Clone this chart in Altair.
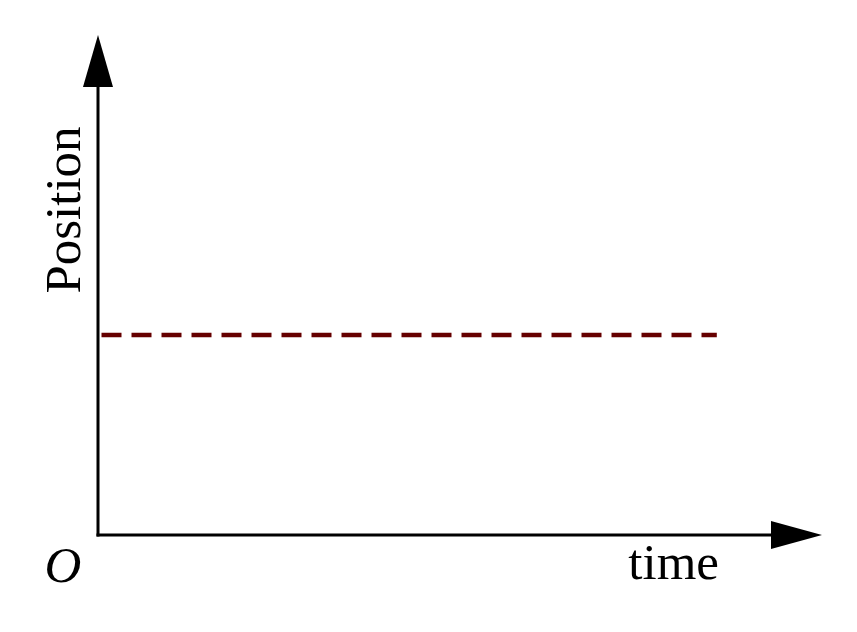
import altair as alt
import pandas as pd

# Conceptual position-time graph: position stays constant over time
times = [0.0, 10.0]
positions = [4.0, 4.0]

x_axis_max = 11.7   # arrow tip of the time axis
y_axis_max = 10.0   # arrow tip of the position axis

X_DOMAIN = [0, x_axis_max]
Y_DOMAIN = [0, y_axis_max]

xs = alt.Scale(domain=X_DOMAIN, nice=False, zero=False)
ys = alt.Scale(domain=Y_DOMAIN, nice=False, zero=False)

line_df = pd.DataFrame({"time": times, "position": positions})

# axis lines (end at arrow bases)
xaxis_df = pd.DataFrame({"x": [0.0], "x2": [x_axis_max - 0.82], "y": [0.0]})
yaxis_df = pd.DataFrame({"x": [0.0], "y": [0.0], "y2": [y_axis_max - 1.04]})
xarrow_df = pd.DataFrame({"x": [x_axis_max], "y": [0.0]})
yarrow_df = pd.DataFrame({"x": [0.0], "y": [y_axis_max]})

dashed = alt.Chart(line_df).mark_line(
    color="#660000", strokeWidth=4.5, strokeDash=[20, 10], strokeDashOffset=26.5,
    strokeCap="butt"
).encode(
    x=alt.X("time:Q", scale=xs, axis=None),
    y=alt.Y("position:Q", scale=ys, axis=None),
)

xaxis = alt.Chart(xaxis_df).mark_rule(color="black", strokeWidth=3, strokeCap="square").encode(
    x=alt.X("x:Q", scale=xs, axis=None), x2="x2:Q", y=alt.Y("y:Q", scale=ys, axis=None)
)
yaxis = alt.Chart(yaxis_df).mark_rule(color="black", strokeWidth=3, strokeCap="square").encode(
    x=alt.X("x:Q", scale=xs, axis=None), y=alt.Y("y:Q", scale=ys, axis=None), y2="y2:Q"
)

xarrow = alt.Chart(xarrow_df).mark_point(
    shape="M0,0L-2,-0.55L-2,0.55Z", size=2601, filled=True, color="black", opacity=1, strokeWidth=0
).encode(x=alt.X("x:Q", scale=xs, axis=None), y=alt.Y("y:Q", scale=ys, axis=None))

yarrow = alt.Chart(yarrow_df).mark_point(
    shape="M0,0L0.577,2L-0.577,2Z", size=2704, filled=True, color="black", opacity=1, strokeWidth=0
).encode(x=alt.X("x:Q", scale=xs, axis=None), y=alt.Y("y:Q", scale=ys, axis=None))

FONT = "Liberation Serif"

ylabel = alt.Chart(pd.DataFrame({"t": ["Position"]})).mark_text(
    font=FONT, fontSize=51, angle=270, align="center", baseline="alphabetic", color="black"
).encode(x=alt.value(-18), y=alt.value(175), text="t:N")

xlabel = alt.Chart(pd.DataFrame({"t": ["time"]})).mark_text(
    font=FONT, fontSize=51, align="right", baseline="alphabetic", color="black"
).encode(x=alt.value(621), y=alt.value(544), text="t:N")

origin = alt.Chart(pd.DataFrame({"t": ["O"]})).mark_text(
    font=FONT, fontSize=51, fontStyle="italic", align="center", baseline="alphabetic", color="black"
).encode(x=alt.value(-35), y=alt.value(547), text="t:N")

chart = alt.layer(dashed, xaxis, yaxis, xarrow, yarrow, ylabel, xlabel, origin).properties(
    width=724, height=500,
    autosize=alt.AutoSizeParams(type="none"),
    padding={"left": 90, "top": 27, "right": 27, "bottom": 89},
    background="white",
).configure_view(stroke=None)

chart.save("out.html", embed_options={"renderer": "svg", "actions": False})
